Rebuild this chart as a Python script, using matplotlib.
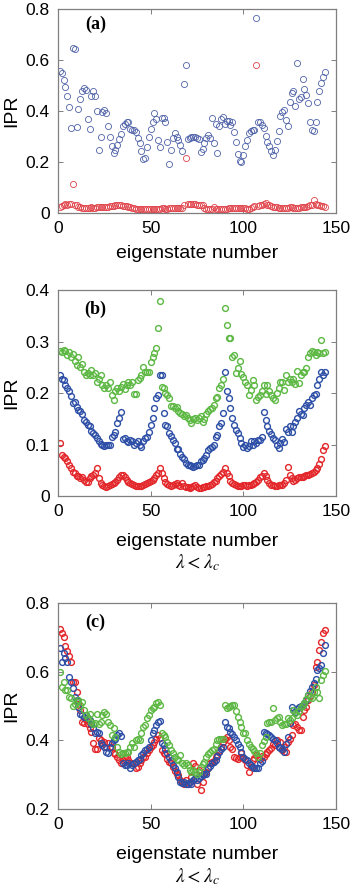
import numpy as np
import matplotlib
matplotlib.use("Agg")
import matplotlib.pyplot as plt

plt.rcParams['font.family'] = ['Liberation Sans', 'DejaVu Sans']
plt.rcParams['mathtext.fontset'] = 'stix'

# ---------------- data ----------------
a_blue = [0.555, 0.548, 0.52, 0.496, 0.46, 0.414, 0.335, 0.646, 0.644, 0.338,
          0.409, 0.448, 0.477, 0.49, 0.483, 0.37, 0.328, 0.46, 0.48, 0.457,
          0.40, 0.249, 0.30, 0.398, 0.405, 0.392, 0.34, 0.30, 0.264, 0.235,
          0.248, 0.265, 0.29, 0.31, 0.34, 0.35, 0.355, 0.358, 0.33, 0.326,
          0.325, 0.317, 0.296, 0.274, 0.244, 0.211, 0.217, 0.258, 0.30, 0.33,
          0.358, 0.394, 0.37, 0.287, 0.26, 0.371, 0.373, 0.358, 0.277, 0.193,
          0.247, 0.294, 0.313, 0.30, 0.287, 0.265, 0.245, 0.507, 0.58, 0.29,
          0.296, 0.298, 0.298, 0.297, 0.295, 0.29, 0.241, 0.25, 0.274, 0.294,
          0.307, 0.294, 0.373, 0.273, 0.349, 0.235, 0.343, 0.368, 0.375, 0.349,
          0.36, 0.359, 0.346, 0.355, 0.316, 0.277, 0.232, 0.202, 0.20, 0.226,
          0.261, 0.287, 0.313, 0.32, 0.324, 0.326, 0.766, 0.358, 0.355, 0.347,
          0.334, 0.303, 0.28, 0.261, 0.242, 0.228, 0.248, 0.283, 0.32, 0.379,
          0.398, 0.405, 0.366, 0.34, 0.435, 0.47, 0.48, 0.418, 0.587, 0.448,
          0.453, 0.527, 0.486, 0.463, 0.43, 0.355, 0.326, 0.322, 0.355, 0.437,
          0.478, 0.51, 0.533, 0.552]
a_red = [0.025, 0.028, 0.03, 0.034, 0.032, 0.035, 0.036, 0.115, 0.033, 0.03,
         0.025, 0.022, 0.02, 0.019, 0.019, 0.02, 0.021, 0.022, 0.02, 0.021,
         0.022, 0.023, 0.023, 0.024, 0.024, 0.025, 0.025, 0.026, 0.027, 0.028,
         0.03, 0.031, 0.031, 0.03, 0.029, 0.028, 0.027, 0.025, 0.023, 0.02,
         0.018, 0.017, 0.016, 0.016, 0.015, 0.016, 0.017, 0.016, 0.015, 0.015,
         0.015, 0.016, 0.016, 0.017, 0.017, 0.018, 0.018, 0.017, 0.017, 0.018,
         0.018, 0.019, 0.02, 0.019, 0.019, 0.02, 0.021, 0.03, 0.215, 0.034,
         0.034, 0.035, 0.035, 0.034, 0.033, 0.033, 0.032, 0.031, 0.02, 0.017,
         0.016, 0.015, 0.016, 0.024, 0.016, 0.015, 0.015, 0.016, 0.016, 0.017,
         0.017, 0.018, 0.018, 0.018, 0.019, 0.019, 0.02, 0.02, 0.019, 0.018,
         0.018, 0.017, 0.017, 0.018, 0.025, 0.027, 0.58, 0.028, 0.03, 0.032,
         0.035, 0.038, 0.033, 0.03, 0.028, 0.025, 0.023, 0.022, 0.021, 0.02,
         0.02, 0.02, 0.021, 0.021, 0.022, 0.022, 0.021, 0.02, 0.02, 0.021,
         0.022, 0.023, 0.024, 0.025, 0.028, 0.03, 0.033, 0.052, 0.035, 0.03,
         0.032, 0.028, 0.026, 0.025]

b_green = [0.282, 0.28, 0.283, 0.282, 0.274, 0.28, 0.27, 0.276, 0.263, 0.254,
           0.27, 0.251, 0.257, 0.241, 0.235, 0.238, 0.235, 0.245, 0.235, 0.238,
           0.222, 0.228, 0.234, 0.215, 0.21, 0.215, 0.209, 0.222, 0.196, 0.186,
           0.204, 0.209, 0.204, 0.212, 0.217, 0.208, 0.215, 0.222, 0.215, 0.221,
           0.199, 0.199, 0.225, 0.23, 0.235, 0.251, 0.24, 0.24, 0.241, 0.261,
           0.269, 0.277, 0.287, 0.327, 0.379, 0.212, 0.21, 0.2, 0.196, 0.19,
           0.175, 0.174, 0.17, 0.172, 0.165, 0.162, 0.16, 0.155, 0.158, 0.152,
           0.148, 0.142, 0.15, 0.152, 0.148, 0.151, 0.155, 0.144, 0.15, 0.16,
           0.165, 0.168, 0.17, 0.177, 0.19, 0.193, 0.209, 0.216, 0.228, 0.366,
           0.333, 0.306, 0.307, 0.269, 0.274, 0.238, 0.249, 0.262, 0.236, 0.232,
           0.222, 0.216, 0.196, 0.206, 0.225, 0.216, 0.186, 0.193, 0.196, 0.203,
           0.216, 0.199, 0.216, 0.203, 0.196, 0.19, 0.186, 0.2, 0.21, 0.222,
           0.221, 0.206, 0.234, 0.222, 0.228, 0.222, 0.227, 0.217, 0.243, 0.219,
           0.235, 0.24, 0.24, 0.249, 0.27, 0.277, 0.282, 0.28, 0.274, 0.28,
           0.277, 0.303, 0.277, 0.28]
b_blue = [0.235, 0.228, 0.225, 0.216, 0.209, 0.203, 0.194, 0.18, 0.183, 0.173,
          0.167, 0.165, 0.16, 0.148, 0.144, 0.138, 0.135, 0.127, 0.122, 0.118,
          0.112, 0.106, 0.101, 0.099, 0.098, 0.099, 0.1, 0.099, 0.115, 0.118,
          0.125, 0.141, 0.151, 0.164, 0.111, 0.112, 0.107, 0.104, 0.109, 0.106,
          0.1, 0.102, 0.107, 0.1, 0.096, 0.107, 0.112, 0.115, 0.125, 0.138,
          0.151, 0.17, 0.19, 0.196, 0.235, 0.235, 0.161, 0.137, 0.135, 0.123,
          0.117, 0.108, 0.103, 0.092, 0.091, 0.081, 0.076, 0.071, 0.065, 0.06,
          0.06, 0.058, 0.057, 0.058, 0.06, 0.06, 0.067, 0.07, 0.073, 0.08,
          0.089, 0.093, 0.096, 0.099, 0.115, 0.118, 0.135, 0.141, 0.161, 0.24,
          0.203, 0.191, 0.17, 0.151, 0.138, 0.128, 0.122, 0.112, 0.102, 0.096,
          0.099, 0.094, 0.098, 0.106, 0.1, 0.106, 0.102, 0.109, 0.109, 0.115,
          0.164, 0.148, 0.135, 0.126, 0.12, 0.112, 0.109, 0.1, 0.093, 0.102,
          0.111, 0.104, 0.131, 0.125, 0.135, 0.125, 0.135, 0.144, 0.151, 0.165,
          0.16, 0.157, 0.17, 0.177, 0.183, 0.177, 0.191, 0.196, 0.199, 0.216,
          0.227, 0.24, 0.235, 0.241]
b_red = [0.102, 0.08, 0.076, 0.073, 0.067, 0.06, 0.054, 0.047, 0.044, 0.038,
         0.038, 0.034, 0.036, 0.031, 0.028, 0.028, 0.034, 0.038, 0.041, 0.044,
         0.055, 0.034, 0.025, 0.021, 0.02, 0.018, 0.019, 0.021, 0.023, 0.025,
         0.028, 0.031, 0.036, 0.041, 0.04, 0.036, 0.031, 0.028, 0.025, 0.023,
         0.021, 0.02, 0.019, 0.019, 0.02, 0.021, 0.023, 0.025, 0.027, 0.029,
         0.031, 0.034, 0.04, 0.044, 0.054, 0.044, 0.034, 0.028, 0.023, 0.021,
         0.02, 0.021, 0.023, 0.026, 0.022, 0.02, 0.025, 0.02, 0.018, 0.017,
         0.016, 0.017, 0.019, 0.022, 0.018, 0.016, 0.016, 0.017, 0.018, 0.019,
         0.02, 0.022, 0.024, 0.027, 0.03, 0.034, 0.038, 0.042, 0.046, 0.054,
         0.045, 0.038, 0.03, 0.026, 0.023, 0.021, 0.02, 0.02, 0.02, 0.021,
         0.021, 0.02, 0.021, 0.022, 0.023, 0.025, 0.028, 0.031, 0.036, 0.038,
         0.044, 0.038, 0.031, 0.026, 0.022, 0.021, 0.02, 0.02, 0.021, 0.022,
         0.022, 0.025, 0.032, 0.057, 0.04, 0.034, 0.03, 0.031, 0.034, 0.036,
         0.036, 0.036, 0.038, 0.04, 0.041, 0.042, 0.044, 0.047, 0.05, 0.054,
         0.062, 0.071, 0.09, 0.098]

c_red = [0.723, 0.712, 0.70, 0.675, 0.661, 0.645, 0.629, 0.571, 0.569, 0.541,
         0.507, 0.488, 0.454, 0.451, 0.459, 0.449, 0.435, 0.425, 0.391, 0.376,
         0.376, 0.408, 0.40, 0.391, 0.396, 0.381, 0.391, 0.381, 0.381, 0.364,
         0.36, 0.352, 0.342, 0.333, 0.344, 0.352, 0.352, 0.344, 0.333, 0.333,
         0.335, 0.318, 0.323, 0.333, 0.342, 0.352, 0.352, 0.362, 0.371, 0.381,
         0.386, 0.396, 0.405, 0.415, 0.408, 0.371, 0.364, 0.36, 0.347, 0.337,
         0.333, 0.323, 0.311, 0.303, 0.299, 0.284, 0.279, 0.274, 0.284, 0.274,
         0.279, 0.294, 0.333, 0.325, 0.274, 0.313, 0.255, 0.279, 0.303, 0.308,
         0.318, 0.333, 0.336, 0.34, 0.352, 0.357, 0.37, 0.381, 0.396, 0.405,
         0.41, 0.40, 0.381, 0.376, 0.352, 0.35, 0.347, 0.352, 0.362, 0.35,
         0.342, 0.328, 0.308, 0.323, 0.342, 0.35, 0.357, 0.352, 0.347, 0.354,
         0.352, 0.36, 0.366, 0.372, 0.379, 0.389, 0.386, 0.40, 0.381, 0.396,
         0.371, 0.381, 0.366, 0.396, 0.405, 0.415, 0.444, 0.449, 0.439, 0.43,
         0.43, 0.469, 0.488, 0.498, 0.517, 0.53, 0.541, 0.561, 0.614, 0.629,
         0.663, 0.687, 0.712, 0.721]
c_blue = [0.668, 0.629, 0.653, 0.639, 0.629, 0.585, 0.571, 0.551, 0.527, 0.517,
          0.498, 0.478, 0.473, 0.469, 0.473, 0.464, 0.459, 0.449, 0.435, 0.42,
          0.425, 0.42, 0.391, 0.386, 0.381, 0.367, 0.362, 0.381, 0.391, 0.40,
          0.405, 0.415, 0.42, 0.412, 0.333, 0.328, 0.328, 0.333, 0.318, 0.328,
          0.333, 0.337, 0.342, 0.347, 0.357, 0.362, 0.371, 0.376, 0.381, 0.40,
          0.42, 0.43, 0.444, 0.454, 0.457, 0.391, 0.386, 0.376, 0.362, 0.352,
          0.344, 0.328, 0.318, 0.308, 0.294, 0.279, 0.276, 0.279, 0.274, 0.272,
          0.279, 0.272, 0.284, 0.289, 0.284, 0.29, 0.295, 0.299, 0.301, 0.303,
          0.318, 0.325, 0.333, 0.338, 0.342, 0.355, 0.367, 0.375, 0.381, 0.454,
          0.439, 0.435, 0.425, 0.418, 0.41, 0.40, 0.39, 0.381, 0.367, 0.352,
          0.347, 0.342, 0.335, 0.328, 0.322, 0.318, 0.318, 0.318, 0.333, 0.34,
          0.425, 0.42, 0.418, 0.415, 0.41, 0.405, 0.40, 0.391, 0.381, 0.378,
          0.376, 0.367, 0.39, 0.41, 0.45, 0.498, 0.488, 0.483, 0.49, 0.498,
          0.5, 0.503, 0.51, 0.517, 0.532, 0.545, 0.556, 0.568, 0.58, 0.605,
          0.612, 0.619, 0.653, 0.679]
c_green = [0.60, 0.554, 0.571, 0.546, 0.548, 0.527, 0.522, 0.50, 0.507, 0.512,
           0.517, 0.503, 0.512, 0.488, 0.473, 0.464, 0.478, 0.454, 0.449, 0.451,
           0.478, 0.449, 0.454, 0.473, 0.483, 0.478, 0.454, 0.444, 0.415, 0.435,
           0.41, 0.381, 0.367, 0.36, 0.362, 0.362, 0.367, 0.367, 0.381, 0.391,
           0.381, 0.40, 0.405, 0.40, 0.42, 0.439, 0.444, 0.464, 0.473, 0.488,
           0.493, 0.498, 0.51, 0.512, 0.503, 0.42, 0.415, 0.41, 0.396, 0.386,
           0.371, 0.362, 0.352, 0.347, 0.344, 0.357, 0.333, 0.328, 0.333, 0.328,
           0.313, 0.308, 0.313, 0.308, 0.303, 0.308, 0.323, 0.33, 0.337, 0.352,
           0.36, 0.367, 0.372, 0.376, 0.39, 0.40, 0.405, 0.405, 0.405, 0.503,
           0.493, 0.498, 0.5, 0.503, 0.503, 0.485, 0.469, 0.454, 0.439, 0.42,
           0.422, 0.40, 0.39, 0.381, 0.376, 0.37, 0.362, 0.352, 0.362, 0.386,
           0.398, 0.41, 0.451, 0.452, 0.454, 0.493, 0.459, 0.464, 0.469, 0.454,
           0.444, 0.447, 0.449, 0.464, 0.46, 0.464, 0.488, 0.48, 0.473, 0.485,
           0.498, 0.503, 0.508, 0.52, 0.532, 0.527, 0.522, 0.541, 0.556, 0.54,
           0.522, 0.575, 0.59, 0.603]

x_ticks = [0, 50, 100, 150]
x_ticklabels = ['0', '50', '100', '150']
a_yticks = [0, 0.2, 0.4, 0.6, 0.8]
a_yticklabels = ['0', '0.2', '0.4', '0.6', '0.8']
b_yticks = [0, 0.1, 0.2, 0.3, 0.4]
b_yticklabels = ['0', '0.1', '0.2', '0.3', '0.4']
c_yticks = [0.2, 0.4, 0.6, 0.8]
c_yticklabels = ['0.2', '0.4', '0.6', '0.8']

# ---------------- figure ----------------
W, H = 350, 889
fig = plt.figure(figsize=(W / 100, H / 100), dpi=100)

def axes_px(left, top, right, bottom):
    return fig.add_axes([left / W, 1 - bottom / H, (right - left) / W, (bottom - top) / H])

BLUE_A = '#4f62a8'
RED_A = '#e0434a'
GREEN = '#5cb843'
BLUE = '#2c4ea6'
RED = '#e3262a'
SPINE = '#7f7f7f'

def style(ax, yticks, yticklabels, ylim, xlabelpad):
    ax.set_xlim(0, 150)
    ax.set_ylim(*ylim)
    ax.set_xticks(x_ticks)
    ax.set_xticklabels(x_ticklabels)
    ax.set_yticks(yticks)
    ax.set_yticklabels(yticklabels)
    ax.tick_params(direction='in', length=3.5, width=0.7, color=SPINE,
                   top=True, right=True, labelsize=12.5, pad=6)
    for s in ax.spines.values():
        s.set_color(SPINE)
        s.set_linewidth(0.9)
    ax.set_ylabel('IPR', fontsize=14, labelpad=4)
    ax.set_xlabel('eigenstate number', fontsize=14, labelpad=xlabelpad)

axa = axes_px(58, 9, 336, 213)
axa.plot(np.arange(1, len(a_blue) + 1), a_blue, 'o', ms=4.4, mfc='none', mec=BLUE_A, mew=0.6)
axa.plot(np.arange(1, len(a_red) + 1), a_red, 'o', ms=4.4, mfc='none', mec=RED_A, mew=0.6)
style(axa, a_yticks, a_yticklabels, (0, 0.8), 6.5)
axa.text(0.135, 0.925, '(a)', transform=axa.transAxes, ha='center', va='center',
         fontsize=13, fontweight='bold', family='Liberation Serif')

axb = axes_px(58, 290, 336, 496)
for vals, col in ((b_green, GREEN), (b_blue, BLUE), (b_red, RED)):
    axb.plot(np.arange(1, len(vals) + 1), vals, 'o', ms=4.2, mfc='none', mec=col, mew=1.0)
style(axb, b_yticks, b_yticklabels, (0, 0.4), 9.5)
axb.text(0.135, 0.905, '(b)', transform=axb.transAxes, ha='center', va='center',
         fontsize=13, fontweight='bold', family='Liberation Serif')

axc = axes_px(58, 603, 336, 809)
for vals, col in ((c_red, RED), (c_blue, BLUE), (c_green, GREEN)):
    axc.plot(np.arange(1, len(vals) + 1), vals, 'o', ms=4.2, mfc='none', mec=col, mew=1.0)
style(axc, c_yticks, c_yticklabels, (0.2, 0.8), 9.5)
axc.text(0.135, 0.905, '(c)', transform=axc.transAxes, ha='center', va='center',
         fontsize=13, fontweight='bold', family='Liberation Serif')

fig.text(197 / W, 1 - 563 / H, r'$\lambda < \lambda_c$', ha='center', va='center', fontsize=14)
fig.text(197 / W, 1 - 877 / H, r'$\lambda < \lambda_c$', ha='center', va='center', fontsize=14)

fig.savefig('out.png', dpi=100)
